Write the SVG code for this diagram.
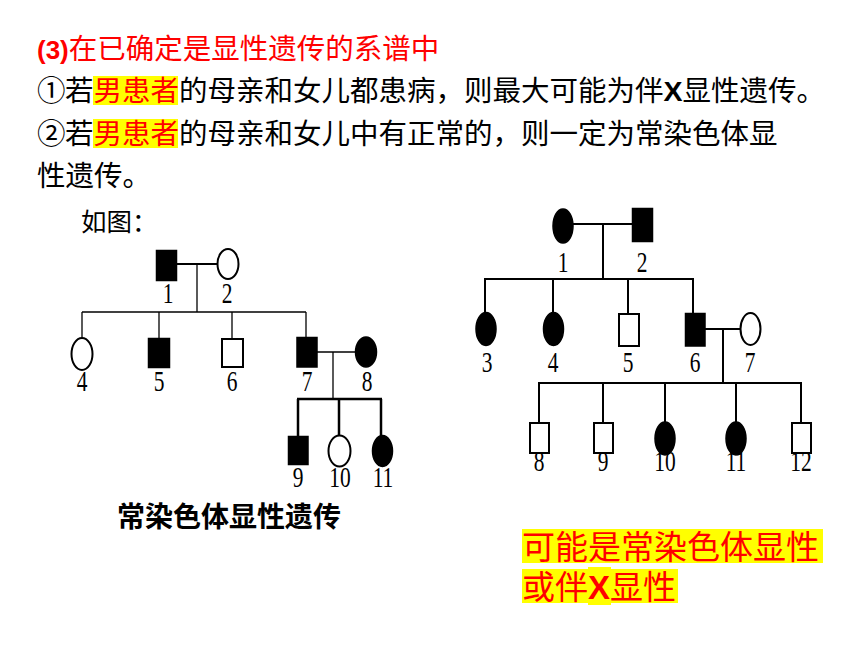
<svg xmlns="http://www.w3.org/2000/svg" width="860" height="645" viewBox="0 0 860 645">
<style>
.t{font-family:"Noto Sans CJK SC","Noto Sans",sans-serif;font-size:28.5px;fill:#000}
.red{fill:#ff0000}
.lat{font-family:"Liberation Sans",Arial,sans-serif;font-weight:bold}
.hl{fill:#ffff00}
.num{font-family:"Liberation Serif","Times New Roman",serif;font-size:29px;fill:#000;text-anchor:middle}
.cap{font-family:"Noto Sans CJK SC",sans-serif;font-size:28px;font-weight:bold;fill:#000;text-anchor:middle}
.aff{fill:#000;stroke:#000;stroke-width:1.5}
.un{fill:#fff;stroke:#000;stroke-width:2}
.ln{stroke:#000;fill:none}
</style>
<rect width="860" height="645" fill="#fff"/>

<g id="text-block">
  <rect class="hl" x="93" y="76" width="85" height="29"/>
  <rect class="hl" x="93" y="119" width="85" height="29"/>
  <text class="t red" x="37" y="59"><tspan class="lat" font-size="26">(3)</tspan>在已确定是显性遗传的系谱中</text>
  <text class="t" x="37" y="101">①<tspan x="65">若</tspan><tspan class="red">男患者</tspan>的母亲和女儿都患病，则最大可能为伴<tspan class="lat">X</tspan>显性遗传。</text>
  <text class="t" x="37" y="144">②<tspan x="65">若</tspan><tspan class="red">男患者</tspan>的母亲和女儿中有正常的，则一定为常染色体显</text>
  <text class="t" x="37" y="186">性遗传。</text>
  <text class="t" x="81" y="231" style="font-size:25.5px">如图：</text>
</g>

<g id="connectors">
  <!-- left pedigree -->
  <line class="ln" x1="177" y1="264" x2="218" y2="264" stroke-width="2"/>
  <line class="ln" x1="197" y1="264" x2="197" y2="312" stroke-width="1.3"/>
  <line class="ln" x1="82" y1="312" x2="306" y2="312" stroke-width="1.3"/>
  <line class="ln" x1="82" y1="312" x2="82" y2="338" stroke-width="1.3"/>
  <line class="ln" x1="159" y1="312" x2="159" y2="338" stroke-width="1.3"/>
  <line class="ln" x1="232" y1="312" x2="232" y2="338" stroke-width="1.3"/>
  <line class="ln" x1="306" y1="312" x2="306" y2="337" stroke-width="1.3"/>
  <line class="ln" x1="317" y1="352" x2="355" y2="352" stroke-width="1.3"/>
  <line class="ln" x1="333" y1="352" x2="333" y2="399" stroke-width="1.3"/>
  <line class="ln" x1="297" y1="399" x2="382" y2="399" stroke-width="2.5"/>
  <line class="ln" x1="298" y1="399" x2="298" y2="436" stroke-width="2.5"/>
  <line class="ln" x1="339" y1="399" x2="339" y2="436" stroke-width="2.5"/>
  <line class="ln" x1="381" y1="399" x2="381" y2="436" stroke-width="2.5"/>
  <!-- right pedigree -->
  <line class="ln" x1="573" y1="224" x2="632" y2="224" stroke-width="2"/>
  <line class="ln" x1="603" y1="224" x2="603" y2="279" stroke-width="2"/>
  <line class="ln" x1="484" y1="279" x2="694" y2="279" stroke-width="2"/>
  <line class="ln" x1="485" y1="279" x2="485" y2="313" stroke-width="2"/>
  <line class="ln" x1="553" y1="279" x2="553" y2="313" stroke-width="2"/>
  <line class="ln" x1="628" y1="279" x2="628" y2="313" stroke-width="2"/>
  <line class="ln" x1="693" y1="279" x2="693" y2="313" stroke-width="2"/>
  <line class="ln" x1="705" y1="329" x2="740" y2="329" stroke-width="2"/>
  <line class="ln" x1="723" y1="329" x2="723" y2="383" stroke-width="2"/>
  <line class="ln" x1="538" y1="383" x2="802" y2="383" stroke-width="2"/>
  <line class="ln" x1="539" y1="383" x2="539" y2="422" stroke-width="2"/>
  <line class="ln" x1="603" y1="383" x2="603" y2="422" stroke-width="2"/>
  <line class="ln" x1="665" y1="383" x2="665" y2="422" stroke-width="2"/>
  <line class="ln" x1="736" y1="383" x2="736" y2="422" stroke-width="2"/>
  <line class="ln" x1="801" y1="383" x2="801" y2="422" stroke-width="2"/>
</g>

<!-- left pedigree nodes -->
<g id="L1"><rect class="aff" x="156.5" y="250.5" width="20" height="30"/><text class="num" transform="translate(168,303) scale(0.74,1)">1</text></g>
<g id="L2"><ellipse class="un" cx="228" cy="264" rx="10.5" ry="15" stroke-width="1.5"/><text class="num" transform="translate(227,303) scale(0.74,1)">2</text></g>
<g id="L4"><ellipse class="un" cx="82" cy="354" rx="10.5" ry="16" stroke-width="1.5"/><text class="num" transform="translate(82,391) scale(0.74,1)">4</text></g>
<g id="L5"><rect class="aff" x="148.5" y="338.5" width="21" height="29"/><text class="num" transform="translate(159,391) scale(0.74,1)">5</text></g>
<g id="L6"><rect class="un" x="222" y="339" width="21" height="28"/><text class="num" transform="translate(232,391) scale(0.74,1)">6</text></g>
<g id="L7"><rect class="aff" x="297" y="337.5" width="20" height="29.5"/><text class="num" transform="translate(307,391) scale(0.74,1)">7</text></g>
<g id="L8"><ellipse class="aff" cx="366" cy="352" rx="10.5" ry="15"/><text class="num" transform="translate(367,391) scale(0.74,1)">8</text></g>
<g id="L9"><rect class="aff" x="288.5" y="436.5" width="19.5" height="28"/><text class="num" transform="translate(298,487) scale(0.74,1)">9</text></g>
<g id="L10"><ellipse class="un" cx="339.5" cy="451" rx="11" ry="15.5" stroke-width="1.5"/><text class="num" transform="translate(340,487) scale(0.74,1)">10</text></g>
<g id="L11"><ellipse class="aff" cx="382.5" cy="451" rx="10" ry="15.5"/><text class="num" transform="translate(383,487) scale(0.74,1)">11</text></g>
<text class="cap" x="229" y="527">常染色体显性遗传</text>

<!-- right pedigree nodes -->
<g id="R1"><ellipse class="aff" cx="563" cy="226" rx="10" ry="17"/><text class="num" transform="translate(563,272) scale(0.74,1)">1</text></g>
<g id="R2"><rect class="aff" x="632.5" y="208.5" width="20" height="33"/><text class="num" transform="translate(642,272) scale(0.74,1)">2</text></g>
<g id="R3"><ellipse class="aff" cx="486" cy="329" rx="10" ry="16.5"/><text class="num" transform="translate(487,372) scale(0.74,1)">3</text></g>
<g id="R4"><ellipse class="aff" cx="553.5" cy="329" rx="10" ry="16.5"/><text class="num" transform="translate(553,372) scale(0.74,1)">4</text></g>
<g id="R5"><rect class="un" x="619" y="314" width="20" height="32"/><text class="num" transform="translate(628,372) scale(0.74,1)">5</text></g>
<g id="R6"><rect class="aff" x="685.5" y="313.5" width="19.5" height="32.5"/><text class="num" transform="translate(695,372) scale(0.74,1)">6</text></g>
<g id="R7"><ellipse class="un" cx="750.5" cy="329" rx="10" ry="16"/><text class="num" transform="translate(750,372) scale(0.74,1)">7</text></g>
<g id="R8"><rect class="un" x="530" y="423" width="19" height="30"/><text class="num" transform="translate(539,471) scale(0.74,1)">8</text></g>
<g id="R9"><rect class="un" x="594" y="423" width="19" height="30"/><text class="num" transform="translate(603,471) scale(0.74,1)">9</text></g>
<g id="R10"><ellipse class="aff" cx="665" cy="438.5" rx="10" ry="16.5"/><text class="num" transform="translate(665,471) scale(0.74,1)">10</text></g>
<g id="R11"><ellipse class="aff" cx="736" cy="438.5" rx="10" ry="16.5"/><text class="num" transform="translate(736,471) scale(0.74,1)">11</text></g>
<g id="R12"><rect class="un" x="792" y="423" width="19" height="30"/><text class="num" transform="translate(801,471) scale(0.74,1)">12</text></g>

<g id="note">
  <rect class="hl" x="522" y="529" width="301" height="34"/>
  <rect class="hl" x="522" y="569" width="156" height="34"/>
  <rect class="hl" x="588" y="567" width="23" height="38"/>
  <text class="t red" x="522" y="559" style="font-size:33px">可能是常染色体显性</text>
  <text class="t red" x="522" y="599" style="font-size:33px">或伴<tspan class="lat">X</tspan>显性</text>
</g>
</svg>
